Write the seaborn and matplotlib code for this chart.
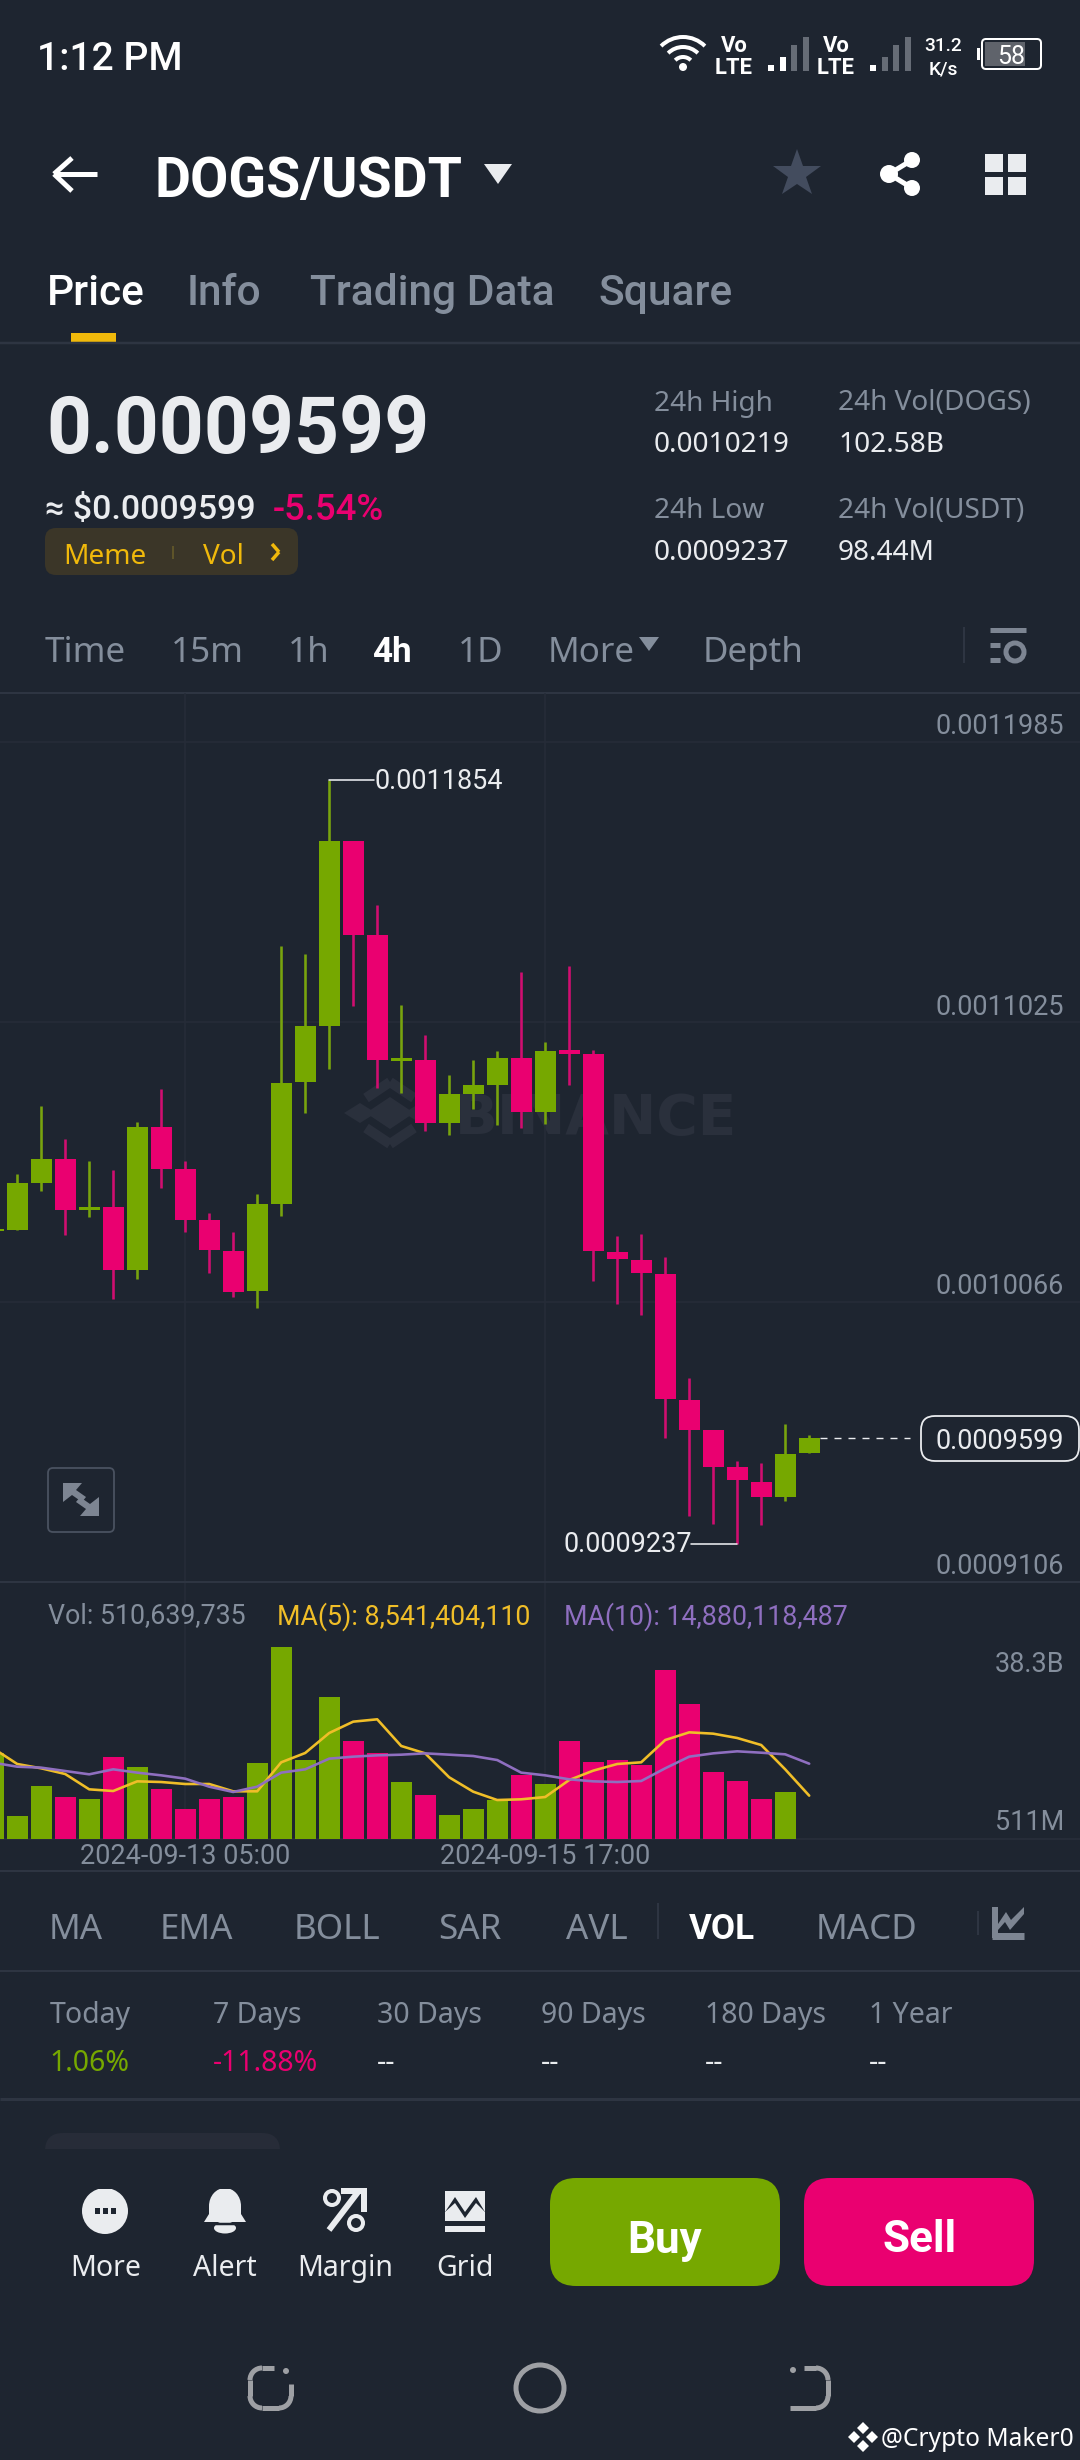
import numpy as np
import pandas as pd
import matplotlib
matplotlib.use("Agg")
import matplotlib.pyplot as plt
from matplotlib.patches import FancyBboxPatch, Rectangle, Circle, Ellipse, Arc, Polygon
import seaborn as sns

# ---------- data (prices in units of 1e-7, volumes in billions) ----------
idx = list(range(-1, 34))
opens = [10308,10313,10475,10555,10380,10390,10174,10665,10522,10347,10241,10103,10402,10819,11012,11645,11322,10892,
         10894,10679,10780,10809,10901,10717,10929,10917,10237,10209,10162,9731,9627,9499,9450,9397,9547]
highs = [10330,10504,10738,10624,10549,10518,10683,10797,10549,10371,10304,10435,11287,11257,11854,11645,11425,11084,
         10980,10842,10894,10925,11198,10957,11218,10931,10292,10298,10219,9806,9627,9521,9515,9649,9609]
lows = [10290,10313,10447,10294,10357,10075,10146,10455,10306,10166,10083,10044,10361,10715,10864,11080,10799,10782,
        10652,10638,10728,10671,10663,10677,10809,10136,10058,10022,9600,9332,9305,9237,9303,9383,9547]
closes = [10315,10475,10555,10382,10392,10174,10665,10522,10347,10243,10099,10402,10817,11010,11645,11322,10894,10903,
          10679,10780,10809,10901,10717,10925,10917,10239,10213,10164,9733,9627,9501,9454,9397,9545,9599]
volumes = [17.34,4.96,10.86,8.76,8.37,16.69,14.66,10.40,6.34,8.44,8.83,15.44,38.30,16.03,28.48,19.77,17.41,11.71,
           9.22,5.16,6.34,8.17,13.02,11.32,19.83,15.58,15.97,14.99,33.65,27.04,13.74,11.84,8.37,9.81,0.511]
ma5 = [18.33,15.25,14.40,13.28,10.27,9.94,11.84,11.71,11.32,11.32,9.88,9.88,15.58,17.41,21.34,23.57,24.03,18.79,
       17.34,12.63,9.81,8.17,8.31,8.76,12.10,13.94,15.25,15.58,19.96,21.47,21.21,20.36,18.98,14.20,9.03]
ma10 = [15.51,14.72,14.53,13.87,13.22,14.20,13.55,13.02,12.37,10.79,9.75,10.79,13.55,14.20,16.30,16.69,16.95,17.08,
        17.34,17.08,16.82,16.03,13.55,13.02,12.24,11.84,11.71,11.91,14.40,16.69,17.34,17.74,17.47,17.15,15.31]
price_ticks = [11985, 11025, 10066, 9106]
price_tick_labels = ["0.0011985", "0.0011025", "0.0010066", "0.0009106"]
date_ticks = [7, 22]
date_labels = ["2024-09-13 05:00", "2024-09-15 17:00"]
high_value, low_value, last_value = 11854, 9237, 9599

BG = "#1E2530"; GREEN = "#76A800"; PINK = "#EA0070"; YEL = "#F0B90B"; PUR = "#8F6FC0"
GRAY = "#848E9C"; WHITE = "#EAECEF"; LINE = "#2E3542"; GRID = "#262C38"

sns.set_theme(style="dark", rc={"figure.facecolor": BG, "axes.facecolor": "none", "savefig.facecolor": BG})
plt.rcParams["font.family"] = ["Noto Sans", "DejaVu Sans"]

W, H = 1080, 2460
fig = plt.figure(figsize=(W / 100, H / 100), dpi=100)
PX = 0.72

def frame(top, bottom):
    return [0, 1 - bottom / H, 1, (bottom - top) / H]

bg = fig.add_axes([0, 0, 1, 1], zorder=0)
bg.set_xlim(0, W); bg.set_ylim(H, 0); bg.axis("off")
fg = fig.add_axes([0, 0, 1, 1], zorder=3)
fg.set_xlim(0, W); fg.set_ylim(H, 0); fg.axis("off")

def T(x, y, s, px, color=GRAY, ha="left", weight="normal", family=None, a=bg):
    kw = {"family": family} if family else {}
    return a.text(x, y, s, fontsize=px * PX, color=color, ha=ha, va="center_baseline", weight=weight, **kw)

def L(x0, y0, x1, y1, color=LINE, px=2, **kw):
    bg.plot([x0, x1], [y0, y1], color=color, lw=px * PX, solid_capstyle=kw.pop("cap", "butt"), **kw)

def RR(x0, y0, x1, y1, r, **kw):
    bg.add_patch(FancyBboxPatch((x0 + r, y0 + r), x1 - x0 - 2 * r, y1 - y0 - 2 * r,
                                boxstyle=f"round,pad={r},rounding_size={r}", **kw))

# ---------- chart axes ----------
x_per_px = 1 / 24.0
xlim = ((0 - 17.2) * x_per_px, (W - 17.2) * x_per_px)
u_per_px = (11985 - 9106) / 840
ax = fig.add_axes(frame(693, 1582), zorder=2)
ax.set_xlim(*xlim)
ax.set_ylim(9106, 11985 + 49 * u_per_px)
ax.set_xticks(date_ticks); ax.set_yticks(price_ticks)
ax.set_xticklabels([]); ax.set_yticklabels([])
ax.grid(True, color=GRID, lw=1.5 * PX)
ax.tick_params(length=0)
for s in ax.spines.values():
    s.set_visible(False)
ax.set_axisbelow(True)

up = np.array(closes) >= np.array(opens)
up[24] = False
for i, o, h, l, c, u in zip(idx, opens, highs, lows, closes, up):
    col = GREEN if u else PINK
    wick = "#78A40E" if u else "#D00E70"
    ax.vlines(i, l, h, color=wick, lw=2.6 * PX, zorder=3)
    ax.bar(i, abs(c - o), bottom=min(o, c), width=0.875, color=col, lw=0, zorder=4)

for lab, val in zip(price_tick_labels, price_ticks):
    ax.annotate(lab, xy=(1, val), xycoords=("axes fraction", "data"), xytext=(-16 * PX, 18 * PX),
                textcoords="offset points", ha="right", va="center_baseline", color=GRAY,
                fontsize=27 * PX, family="Roboto")

hi_i = idx[int(np.argmax(highs))]
lo_i = idx[int(np.argmin(lows))]
ax.plot([hi_i, hi_i + 45 * x_per_px], [high_value] * 2, color=WHITE, lw=1.6 * PX, zorder=5)
ax.annotate("0.0011854", xy=(hi_i + 45 * x_per_px, high_value), xytext=(0, 1.5 * PX), textcoords="offset points",
            ha="left", va="center_baseline", color=WHITE, fontsize=27 * PX, family="Roboto")
ax.plot([lo_i, lo_i - 46 * x_per_px], [low_value] * 2, color=WHITE, lw=1.6 * PX, zorder=5)
ax.annotate("0.0009237", xy=(lo_i - 46 * x_per_px, low_value), xytext=(1 * PX, 2 * PX), textcoords="offset points",
            ha="right", va="center_baseline", color=WHITE, fontsize=27 * PX, family="Roboto")
ax.plot([33.45, 37.2], [last_value] * 2, color=WHITE, lw=1.4 * PX, dashes=(5, 5), zorder=5)
ax.annotate("0.0009599", xy=(1, last_value), xycoords=("axes fraction", "data"), xytext=(-16 * PX, 0),
            textcoords="offset points", ha="right", va="center_baseline", color=WHITE,
            fontsize=27 * PX, family="Roboto", zorder=7)

# volume axes
v_per_px = 0.0655 * 3
axv = fig.add_axes(frame(1582, 1839), zorder=2)
df = pd.DataFrame({"idx": idx, "vol": volumes, "side": ["up" if u else "down" for u in up]})
sns.barplot(data=df, x="idx", y="vol", hue="side", palette={"up": GREEN, "down": PINK}, native_scale=True,
            dodge=False, width=0.875, saturation=1, legend=False, ax=axv, zorder=3, linewidth=0)
sns.lineplot(x=idx, y=ma5, color="#F0BE28", lw=2.6 * PX, ax=axv, zorder=4, errorbar=None)
sns.lineplot(x=idx, y=ma10, color=PUR, lw=2.6 * PX, ax=axv, zorder=5, errorbar=None)
axv.set_xlim(*xlim)
axv.set_ylim(0.511, 0.511 + 257 * v_per_px)
axv.set_xlabel(""); axv.set_ylabel("")
axv.set_yticks([])
axv.set_xticks(date_ticks)
axv.set_xticklabels(date_labels, color=GRAY, fontsize=27 * PX, family="Roboto")
axv.tick_params(axis="x", length=0, pad=4.5 * PX)
axv.xaxis.grid(True, color=GRID, lw=1.5 * PX); axv.yaxis.grid(False)
axv.set_axisbelow(True)
for n, s in axv.spines.items():
    s.set_visible(n in ("top", "bottom"))
    s.set_color(LINE if n == "top" else GRID); s.set_linewidth(2 * PX)
axv.spines["bottom"].set_zorder(1)
T(1064, 1662, "38.3B", 27, GRAY, "right", family="Roboto", a=fg)
T(1064, 1820, "511M", 27, GRAY, "right", family="Roboto", a=fg)
T(48, 1613, "Vol: 510,639,735", 26.8, GRAY, family="Roboto", a=fg)
T(277, 1613, "MA(5): 8,541,404,110", 26.8, "#F0BE28", family="Roboto", a=fg)
T(564, 1613, "MA(10): 14,880,118,487", 26.8, PUR, family="Roboto", a=fg)

# watermark
WM = "#2A303C"
for cx, cy, w, h in [(390, 1113, 24, 16), (360, 1113, 16, 10), (420, 1113, 16, 10)]:
    bg.add_patch(Polygon([(cx - w, cy), (cx, cy - h), (cx + w, cy), (cx, cy + h)], color=WM, lw=0))
L(366, 1098, 390, 1082, WM, 10); L(390, 1082, 414, 1098, WM, 10)
L(366, 1128, 390, 1144, WM, 10); L(390, 1144, 414, 1128, WM, 10)
T(455, 1113, "BINANCE", 56.5, WM, weight="bold", family="DejaVu Sans")

# current price box, expand button
RR(921, 1416, 1079, 1461, 14, fc="none", ec=WHITE, lw=1.8 * PX, zorder=3)
RR(48, 1468, 114, 1532, 5, fc="none", ec="#4A5260", lw=1.8 * PX)
ICON = "#7D8592"
bg.add_patch(Polygon([(63, 1483), (82, 1483), (76, 1490), (86, 1497), (82, 1502), (72, 1495), (63, 1502)], color=ICON, lw=0))
bg.add_patch(Polygon([(99, 1516), (80, 1516), (86, 1509), (76, 1502), (80, 1497), (90, 1504), (99, 1497)], color=ICON, lw=0))

# ---------- status bar and header ----------
T(37, 56, "1:12 PM", 39, "#FFFFFF", family="Roboto", weight="medium")
for r in (11, 21, 31):
    bg.add_patch(Arc((683, 68), r * 2, r * 2, theta1=225, theta2=315, color="#FFFFFF", lw=4 * PX))
bg.add_patch(Circle((683, 67), 4, color="#FFFFFF", lw=0))
for x0 in (734, 836):
    T(x0, 43, "Vo", 22, "#FFFFFF", "center", "bold", family="Roboto")
    T(x0, 65, "LTE", 22, "#FFFFFF", "center", "bold", family="Roboto")
for x0, hs, n in ((768, (6, 14, 26, 34), 2), (870, (6, 14, 26, 34), 1)):
    for j, h in enumerate(hs):
        c = "#FFFFFF" if j < n else "#666C76"
        bg.add_patch(Rectangle((x0 + j * 11.5, 71 - h), 6, h, color=c, lw=0))
T(943, 44, "31.2", 19, "#FFFFFF", "center", family="Roboto", weight="medium")
T(943, 67, "K/s", 19, "#FFFFFF", "center", family="Roboto", weight="medium")
RR(982, 39, 1041, 69, 4, fc="none", ec="#FFFFFF", lw=2 * PX)
bg.add_patch(Rectangle((985, 42), 40, 24, color="#5F636B", lw=0))
bg.add_patch(Rectangle((977, 48), 2.5, 12, color="#FFFFFF", lw=0))
T(1011, 54, "58", 25, "#FFFFFF", "center", family="Roboto")

L(54, 174, 97, 174, "#FFFFFF", 5)
L(72, 158, 54, 174, "#FFFFFF", 5); L(54, 174, 72, 191, "#FFFFFF", 5)
T(154, 176, "DOGS/USDT", 55.5, "#FFFFFF", weight="bold", family="Roboto")
bg.add_patch(Polygon([(484, 164), (512, 164), (498, 184)], color=WHITE, lw=0))
bg.plot(797, 174, marker="*", ms=50 * PX, color="#434C5E", mew=0)
sc = "#FFFFFF"
for cx, cy, r in [(889, 174, 9), (912, 160, 8), (912, 188, 8)]:
    bg.add_patch(Circle((cx, cy), r, color=sc, lw=0))
L(889, 174, 912, 160, sc, 5); L(889, 174, 912, 188, sc, 5)
for x0, y0 in [(985, 154), (1008, 154), (985, 177), (1008, 177)]:
    bg.add_patch(Rectangle((x0, y0), 18, 18, color=WHITE, lw=0))

for x0, s, c in [(47, "Price", "#FFFFFF"), (187, "Info", GRAY), (310, "Trading Data", GRAY), (598, "Square", GRAY)]:
    T(x0, 289, s, 42.5, c, weight="medium", family="Roboto")
bg.add_patch(Rectangle((71, 333), 45, 9, color=YEL, lw=0))
L(0, 343, W, 343, LINE, 2.5)

T(46, 424, "0.0009599", 78.5, WHITE, weight="bold", family="Roboto")
T(45, 506, "≈ $0.0009599", 34, WHITE, weight="medium", family="Roboto")
T(273, 506, "-5.54%", 36.5, PINK, family="Roboto", weight="medium")
RR(45, 528, 298, 575, 11, fc="#3B3628", ec="none")
T(63, 553, "Meme", 28, YEL); T(203, 553, "Vol", 28, YEL)
L(173, 546, 173, 559, "#6A5F2A", 1.5)
L(272, 544, 279, 552, YEL, 3.5); L(279, 552, 272, 560, YEL, 3.5)
T(654, 400, "24h High", 28); T(654, 442, "0.0010219", 28, WHITE)
T(838, 400, "24h Vol(DOGS)", 28); T(838, 442, "102.58B", 28, WHITE)
T(654, 508, "24h Low", 28); T(654, 549, "0.0009237", 28, WHITE)
T(838, 508, "24h Vol(USDT)", 28); T(838, 549, "98.44M", 28, WHITE)

for x0, s, c, w in [(45, "Time", GRAY, "normal"), (171, "15m", GRAY, "normal"), (288, "1h", GRAY, "normal"),
                    (372, "4h", "#FFFFFF", "bold"), (458, "1D", GRAY, "normal"), (548, "More", GRAY, "normal"),
                    (703, "Depth", GRAY, "normal")]:
    T(x0, 649, s, 35, c, weight=w, family="Roboto" if w == "bold" else None)
bg.add_patch(Polygon([(639, 637), (659, 637), (649, 651)], color=GRAY, lw=0))
L(964, 627, 964, 663, LINE, 2)
for y0, x0, x1 in [(630, 990, 1026), (660, 990, 1000)]:
    L(x0, y0, x1, y0, ICON, 5)
L(990, 645, 1000, 645, ICON, 5)
bg.add_patch(Circle((1015, 652), 9, fc="none", ec=ICON, lw=5 * PX))
L(0, 693, W, 693, LINE, 2)

# ---------- lower panels ----------
L(0, 1871, W, 1871, LINE, 2)
for x0, s, c, w in [(49, "MA", GRAY, "normal"), (160, "EMA", GRAY, "normal"), (294, "BOLL", GRAY, "normal"),
                    (438, "SAR", GRAY, "normal"), (566, "AVL", GRAY, "normal"), (689, "VOL", "#FFFFFF", "bold"),
                    (816, "MACD", GRAY, "normal")]:
    T(x0, 1926, s, 35, c, weight=w, family="Roboto" if w == "bold" else None)
L(658, 1903, 658, 1939, LINE, 2); L(978, 1911, 978, 1935, LINE, 2)
L(995, 1907, 995, 1938, ICON, 6); L(992, 1936, 1024, 1936, ICON, 7)
bg.add_patch(Polygon([(998, 1924), (1006, 1912), (1011, 1920), (1024, 1907), (1024, 1914), (1010, 1930), (1005, 1922), (998, 1930)], color=ICON, lw=0))
L(0, 1971, W, 1971, LINE, 2)
xs = [50, 213, 377, 541, 705, 869]
for x0, s in zip(xs, ["Today", "7 Days", "30 Days", "90 Days", "180 Days", "1 Year"]):
    T(x0, 2012, s, 28.5)
T(49, 2060, "1.06%", 28.5, GREEN); T(213, 2060, "-11.88%", 28.5, PINK)
for x0 in xs[2:]:
    T(x0, 2060, "--", 29, WHITE)
L(0, 2099, W, 2099, LINE, 3)
bg.add_patch(FancyBboxPatch((65, 2153), 195, 1, boxstyle="round,pad=20,rounding_size=18", fc="#272C38", ec="none", clip_on=True))
bg.add_patch(Rectangle((40, 2149), 245, 40, color=BG, lw=0, zorder=1.1))

for cx, s in [(106, "More"), (225, "Alert"), (345, "Margin"), (465, "Grid")]:
    T(cx, 2265, s, 28.5, WHITE, "center")
bg.add_patch(Circle((105, 2211), 23, color=WHITE, lw=0))
for dx in (-8, 0, 8):
    bg.add_patch(Rectangle((105 + dx - 2.5, 2208), 5, 6, color=BG, lw=0))
bg.add_patch(Ellipse((225, 2206), 32, 36, color=WHITE, lw=0))
bg.add_patch(Polygon([(209, 2206), (241, 2206), (241, 2214), (246, 2222), (204, 2222), (209, 2214)], color=WHITE, lw=0))
bg.add_patch(Ellipse((225, 2228), 22, 11, color=WHITE, lw=0))
L(204, 2224, 246, 2224, BG, 2.5)
L(329, 2230, 358, 2192, WHITE, 6); L(341, 2191, 364, 2191, WHITE, 6); L(364, 2188, 364, 2212, WHITE, 6)
bg.add_patch(Circle((332, 2198), 7, fc="none", ec=WHITE, lw=4 * PX))
bg.add_patch(Circle((356, 2223), 7, fc="none", ec=WHITE, lw=4 * PX))
bg.add_patch(Polygon([(445, 2191), (485, 2191), (485, 2212), (476, 2197), (465, 2212), (455, 2197), (445, 2212)], color=WHITE, lw=0))
bg.add_patch(Polygon([(445, 2212), (455, 2203), (465, 2218), (476, 2203), (485, 2212), (485, 2221), (445, 2221)], color=WHITE, lw=0))
bg.add_patch(Rectangle((445, 2226), 40, 6, color=WHITE, lw=0))

RR(550, 2178, 780, 2286, 26, fc="#76A800", ec="none")
RR(804, 2178, 1034, 2286, 26, fc="#EA0070", ec="none")
T(665, 2236, "Buy", 44, "#FFFFFF", "center", "bold", family="Roboto")
T(920, 2236, "Sell", 44, "#FFFFFF", "center", "bold", family="Roboto")

NAV = "#9EA0A4"
bg.add_patch(Ellipse((540, 2388), 48, 46, fc="none", ec=NAV, lw=5 * PX))
# left nav glyph
bg.add_patch(Arc((262, 2380), 24, 24, theta1=180, theta2=270, color=NAV, lw=5 * PX))
bg.add_patch(Arc((262, 2396), 24, 24, theta1=90, theta2=180, color=NAV, lw=5 * PX))
bg.add_patch(Arc((279, 2396), 24, 24, theta1=0, theta2=90, color=NAV, lw=5 * PX))
L(250, 2380, 250, 2396, NAV, 5); L(262, 2368, 274, 2368, NAV, 5); L(262, 2408, 279, 2408, NAV, 5); L(291, 2396, 291, 2384, NAV, 5)
bg.add_patch(Circle((286, 2371), 3, color=NAV, lw=0))
# right nav glyph
bg.add_patch(Arc((816, 2380), 24, 24, theta1=270, theta2=360, color=NAV, lw=5 * PX))
bg.add_patch(Arc((816, 2396), 24, 24, theta1=0, theta2=90, color=NAV, lw=5 * PX))
L(828, 2380, 828, 2396, NAV, 5); L(804, 2368, 816, 2368, NAV, 5); L(790, 2408, 816, 2408, NAV, 5)
bg.add_patch(Circle((793, 2370), 3, color=NAV, lw=0))
for cx, cy, r in [(863, 2428, 6), (863, 2446, 6), (854, 2437, 6), (872, 2437, 6)]:
    bg.add_patch(Polygon([(cx - r, cy), (cx, cy - r), (cx + r, cy), (cx, cy + r)], color="#FFFFFF", lw=0))
T(881, 2437, "@Crypto Maker0", 24.5, "#FFFFFF")

fig.savefig("out.png", dpi=100, facecolor=BG)
